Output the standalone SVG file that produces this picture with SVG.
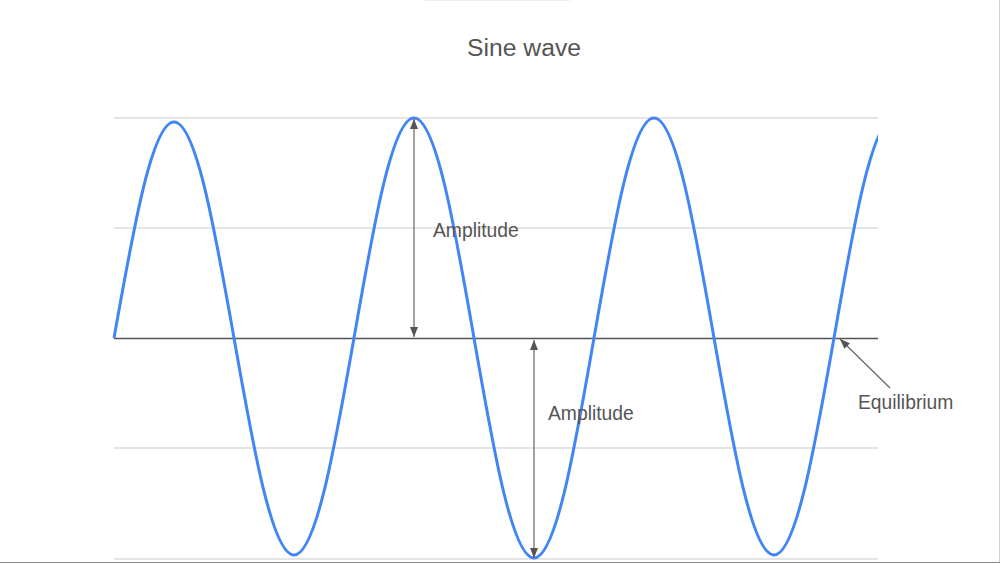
<svg xmlns="http://www.w3.org/2000/svg" width="1000" height="563" viewBox="0 0 1000 563">
<style>
.grid{stroke:#cccccc;stroke-width:1.2;fill:none}
.axis{stroke:#555555;stroke-width:1.6;fill:none}
.wave{stroke:#4285f4;stroke-width:3;fill:none;stroke-linejoin:round}
.conn{stroke:#666666;stroke-width:1.2;fill:none}
.lbl{font-family:"Liberation Sans",Arial,sans-serif;font-size:19.3px;fill:#555555}
.title{font-family:"Liberation Sans",Arial,sans-serif;font-size:24.7px;fill:#555555}
</style>
<defs>
<marker id="ah" viewBox="0 0 10 10" refX="10" refY="5" markerWidth="10" markerHeight="10" markerUnits="userSpaceOnUse" orient="auto-start-reverse">
<path d="M0,1 L10,5 L0,9 Z" fill="#555555"/>
</marker>
<clipPath id="plot"><rect x="100" y="100" width="778" height="470"/></clipPath>
</defs>
<rect width="1000" height="563" fill="#ffffff"/>
<line x1="425" y1="0.5" x2="570" y2="0.5" stroke="#eeeeee" stroke-width="1"/>
<line x1="999.5" y1="0" x2="999.5" y2="563" stroke="#d0d0d0" stroke-width="1"/>
<line x1="0" y1="562.5" x2="1000" y2="562.5" stroke="#888888" stroke-width="1.2"/>
<g id="title"><text class="title" x="524" y="56" text-anchor="middle">Sine wave</text></g>
<g id="gridlines">
<line class="grid" x1="114" y1="118" x2="878" y2="118"/>
<line class="grid" x1="114" y1="228" x2="878" y2="228"/>
<line class="grid" x1="114" y1="448" x2="878" y2="448"/>
<line class="grid" x1="114" y1="559" x2="878" y2="559"/>
</g>
<g id="equilibrium-axis"><line class="axis" x1="114" y1="338.5" x2="878" y2="338.5"/></g>
<g id="sine-wave" clip-path="url(#plot)">
<path class="wave" d="M114,338
c19.57,-110.6 38.28,-216 60,-216 c21.72,0 40.43,105.4 60,216 c19.57,111.2 38.28,217 60,217 c21.72,0 40.43,-105.8 60,-217
c19.57,-112.7 38.28,-220 60,-220 c21.72,0 40.43,107.3 60,220 c19.57,112.7 38.28,220 60,220 c21.72,0 40.43,-107.3 60,-220
c19.57,-112.7 38.28,-220 60,-220 c21.72,0 40.43,107.3 60,220 c19.57,111.2 38.28,217 60,217 c21.72,0 40.43,-105.8 60,-217
c19.57,-112.7 38.28,-220 60,-220"/>
</g>
<g id="connectors">
<line class="conn" x1="414" y1="337" x2="414" y2="119" marker-start="url(#ah)" marker-end="url(#ah)"/>
<line class="conn" x1="534" y1="340" x2="534" y2="558" marker-start="url(#ah)" marker-end="url(#ah)"/>
<line class="conn" x1="890" y1="388" x2="840" y2="339" marker-end="url(#ah)"/>
</g>
<g id="label-amplitude-1"><text class="lbl" x="433" y="237">Amplitude</text></g>
<g id="label-amplitude-2"><text class="lbl" x="548" y="420">Amplitude</text></g>
<g id="label-equilibrium"><text class="lbl" x="858" y="409">Equilibrium</text></g>
</svg>
